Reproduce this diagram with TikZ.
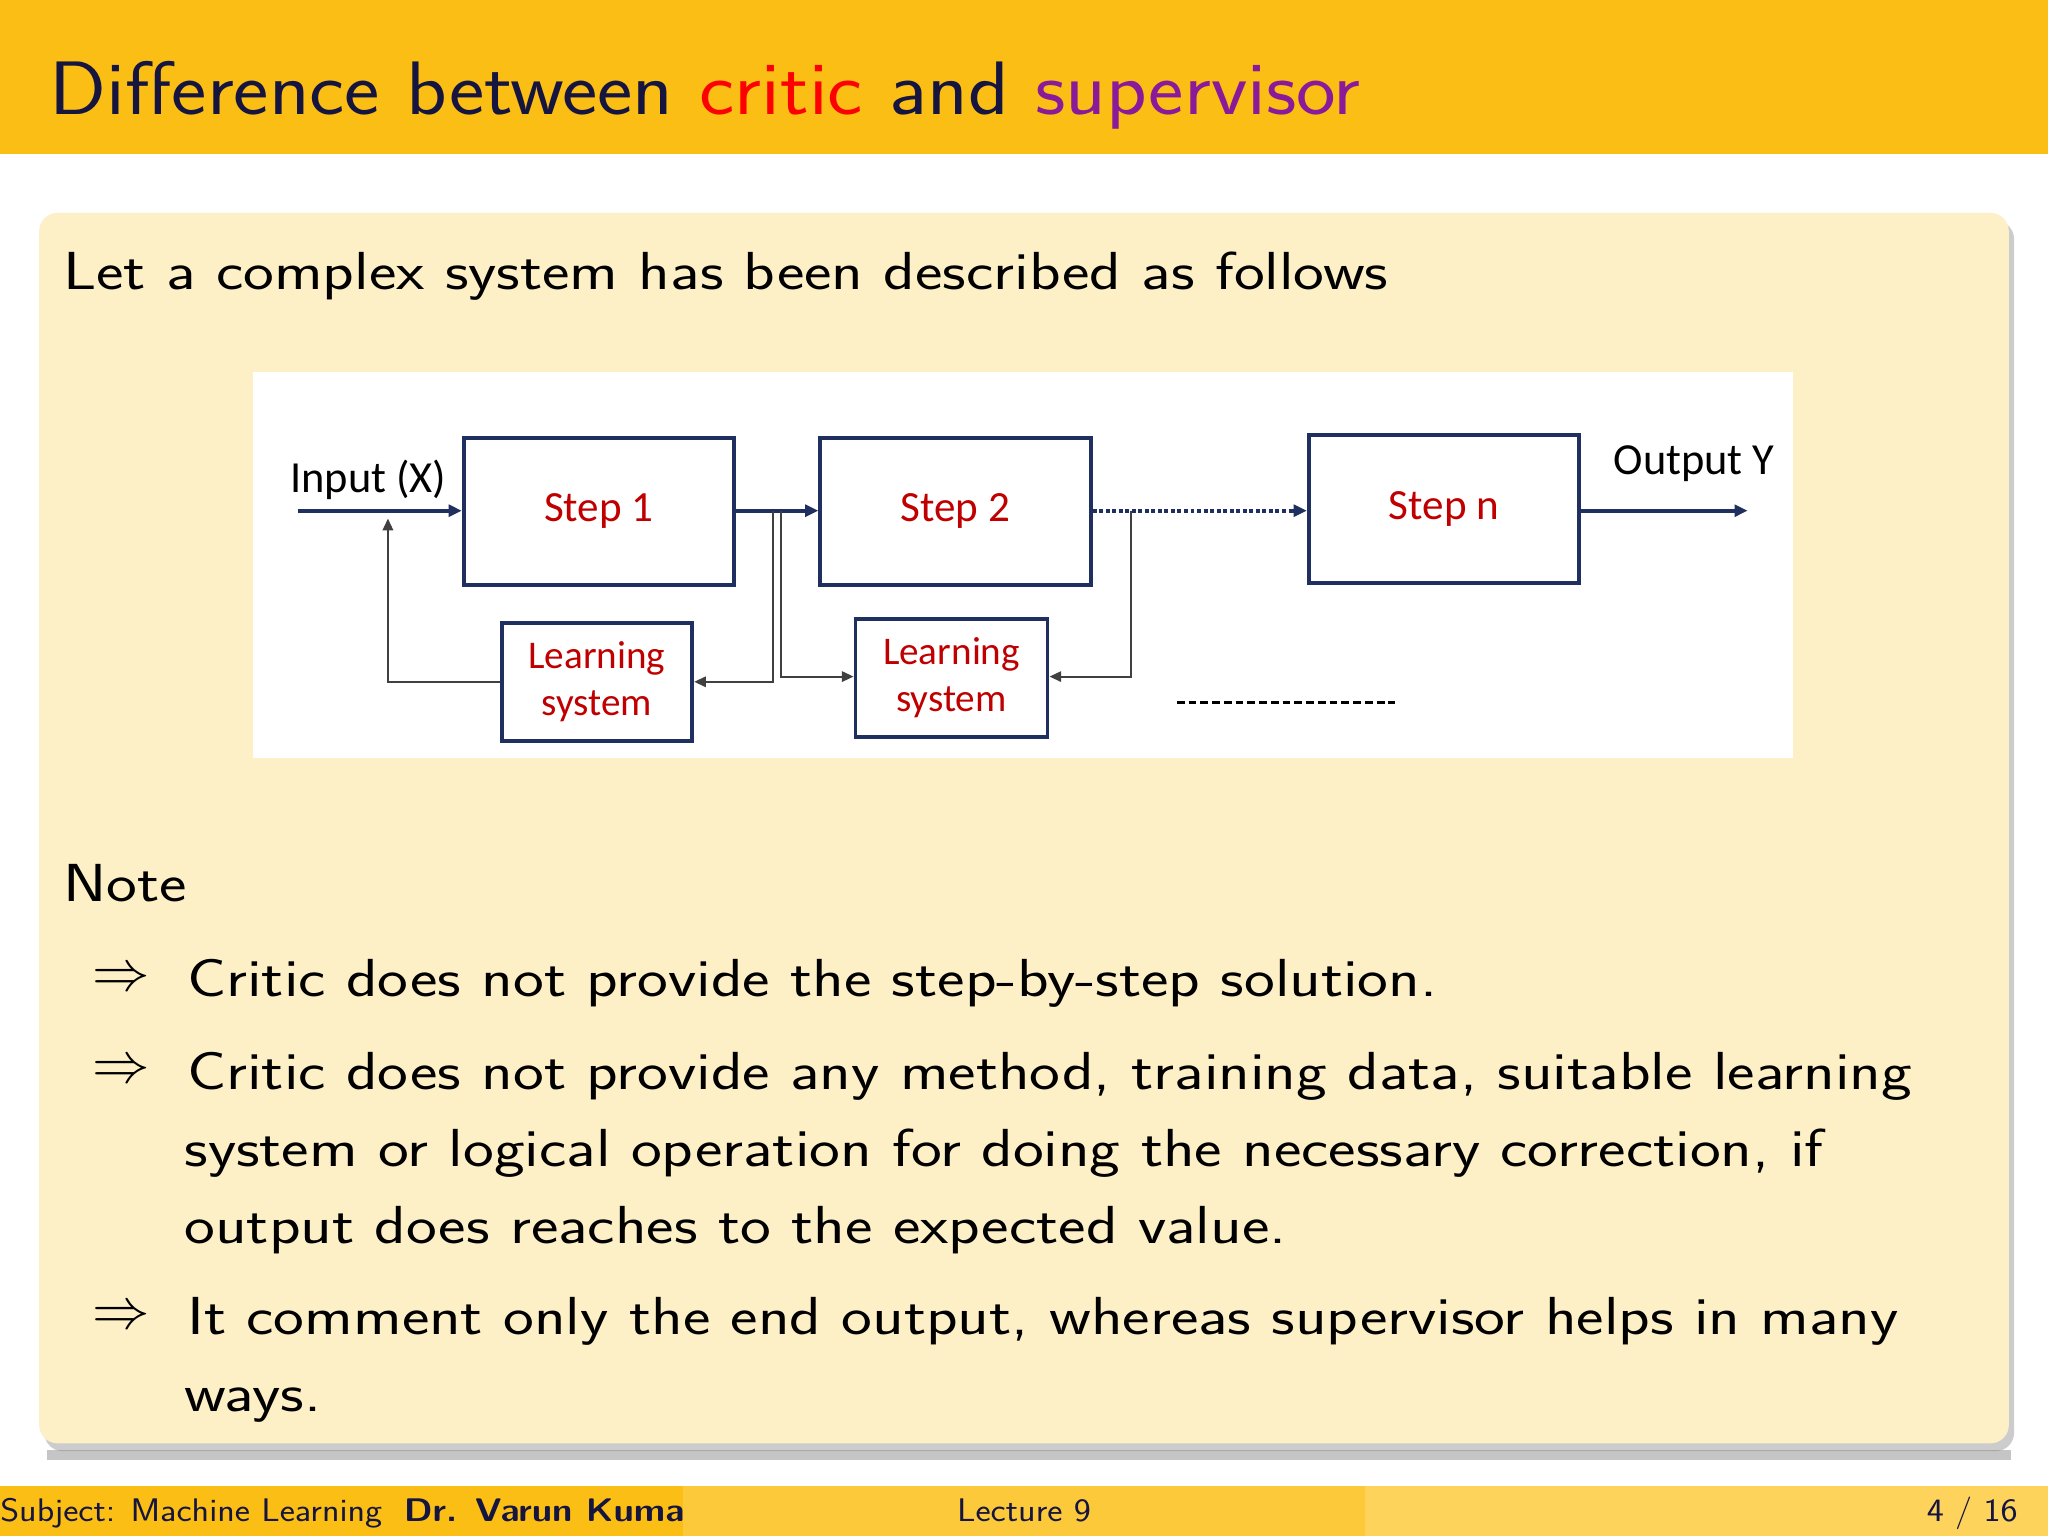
\documentclass[tikz,border=0pt]{standalone}
\usepackage{fontspec}
\newfontfamily\carl{Carlito}
\usetikzlibrary{arrows.meta,shadows}
\definecolor{bar}{HTML}{FBBE14}
\definecolor{bar2}{HTML}{FCC93A}
\definecolor{bar3}{HTML}{FDD35C}
\definecolor{blk}{HTML}{FDEFC6}
\definecolor{navy}{HTML}{1F3060}
\definecolor{dred}{HTML}{C00000}
\definecolor{ttl}{HTML}{15153F}
\definecolor{pur}{HTML}{8A1A9A}
\definecolor{ln}{HTML}{606060}
\begin{document}
\begin{tikzpicture}[x=1pt,y=-1pt,
  box/.style={draw=navy,line width=3pt,fill=white,font=\carl\fontsize{33}{36}\selectfont,text=dred,align=center,inner sep=0pt},
  body/.style={anchor=base west,inner sep=0pt,font=\sffamily\fontsize{41}{48}\selectfont,xscale=1.22},
  foot/.style={inner sep=0pt,font=\sffamily\fontsize{25}{28}\selectfont,text=ttl,xscale=1.11},
  nav/.style={line width=3pt,draw=navy,-{Triangle[length=10pt,width=9pt]}},
  fb/.style={line width=1.5pt,-{Triangle[length=9pt,width=8pt]},draw=black!75}]
\useasboundingbox (0,0) rectangle (1568,1176);
\fill[white] (0,0) rectangle (1568,1176);
\fill[bar] (0,0) rectangle (1568,118);
\node[anchor=base west,inner sep=0pt,font=\sffamily\fontsize{58}{60}\selectfont,text=ttl,xscale=1.11] (title) at (38,88) {Difference between \textcolor{red}{critic} and \textcolor{pur}{supervisor}};
\fill[black!45,opacity=0.5] (36,1110) rectangle (1540,1118);
\fill[blk,rounded corners=14pt,drop shadow={shadow xshift=4pt,shadow yshift=-6pt,opacity=0.4}] (30,163) rectangle (1538,1105);
\node[body] (intro) at (48,222) {Let a complex system has been described as follows};
\fill[white] (194,285) rectangle (1373,580);
\node[box,minimum width=207pt,minimum height=113pt] (s1) at (458.5,391.5) {Step 1};
\node[box,minimum width=207pt,minimum height=113pt] (s2) at (731.5,391.5) {Step 2};
\node[box,minimum width=207pt,minimum height=113pt] (sn) at (1105.5,389.5) {Step n};
\node[box,minimum width=146pt,minimum height=90pt,font=\carl\fontsize{30}{36}\selectfont] (l1) at (457,522) {Learning\\system};
\node[box,minimum width=147pt,minimum height=90pt,font=\carl\fontsize{30}{36}\selectfont] (l2) at (728.5,519) {Learning\\system};
\coordinate (in) at (228,391);
\coordinate (out) at (1338,391);
\draw[nav] (in) -- (s1.west|-in);
\node[font=\carl\fontsize{34}{36}\selectfont,inner sep=0pt] (inl) at (282,367) {Input (X)};
\draw[nav] (s1.east|-in) -- (s2.west|-in);
\draw[navy,line width=3pt,dotted] (s2.east|-in) -- (988,391);
\draw[nav] (988,391) -- (sn.west|-in);
\draw[nav] (sn.east|-in) -- (out);
\node[font=\carl\fontsize{34}{36}\selectfont,inner sep=0pt] (outl) at (1297,355) {Output Y};
\coordinate (a1) at (592,391); \coordinate (a2) at (598,391); \coordinate (a3) at (866,391);
\draw[fb] (l1.west|-0,522) -| (297,397);
\draw[fb] (a1) |- (l1.east|-0,522);
\draw[fb] (a2) |- (l2.west|-0,518);
\draw[fb] (a3) |- (l2.east|-0,518);
\draw[black,line width=2.5pt,dash pattern=on 6pt off 3pt] (901,538) -- (1068,538);
\node[body] (note) at (48,690) {Note};
\foreach \y in {750,821,1009} \node[anchor=west,inner sep=0pt,font=\fontsize{10}{12}\selectfont] at (71,\y) {\scalebox{4.4}{$\Rightarrow$}};
\node[body] (b1) at (143,763) {Critic does not provide the step-by-step solution.};
\node[body] (b2a) at (143,834) {Critic does not provide any method, training data, suitable learning};
\node[body] (b2b) at (141,893) {system or logical operation for doing the necessary correction, if};
\node[body] (b2c) at (141,952) {output does reaches to the expected value.};
\node[body] (b3a) at (143,1022) {It comment only the end output, whereas supervisor helps in many};
\node[body] (b3b) at (141,1081) {ways.};
\fill[bar] (0,1138) rectangle (523,1176);
\fill[bar2] (523,1138) rectangle (1045,1176);
\fill[bar3] (1045,1138) rectangle (1568,1176);
\begin{scope}
\clip (0,1138) rectangle (523,1176);
\node[foot,anchor=base west] (f1) at (0,1165) {Subject: Machine Learning\hspace{0.6em}\textbf{Dr. Varun Kumar}};
\end{scope}
\node[foot,anchor=base] (f2) at (784,1165) {Lecture 9};
\node[foot,anchor=base east] (f3) at (1545,1165) {4 / 16};
\end{tikzpicture}
\end{document}
